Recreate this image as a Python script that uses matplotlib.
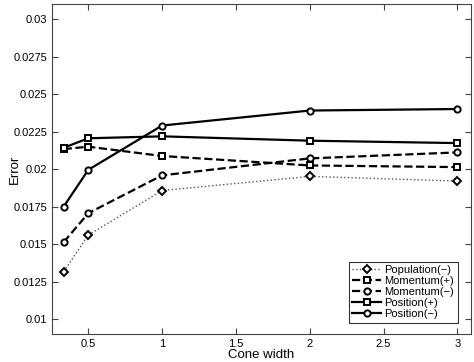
import matplotlib
matplotlib.use('Agg')
import matplotlib.pyplot as plt
import numpy as np

# anchura del cono
ancho = [1/3, 0.5, 1, 2, 3]

pob_menos = [0.01317, 0.0156, 0.01857, 0.01951, 0.0192]
mom_mas = [0.02133, 0.02149, 0.02087, 0.02024, 0.02013]
mom_menos = [0.01513, 0.01706, 0.01958, 0.02071, 0.02111]
pos_mas = [0.02142, 0.02205, 0.02218, 0.02189, 0.02173]
pos_menos = [0.0175, 0.01995, 0.0229, 0.0239, 0.0240]

etiquetas = ['Population(−)', 'Momentum(+)', 'Momentum(−)', 'Position(+)', 'Position(−)']

plt.rcParams['font.family'] = ['Liberation Sans', 'DejaVu Sans']
fig = plt.figure(figsize=(4.74, 3.62), dpi=100)
ax = fig.add_axes([0.11, 0.077, 0.883, 0.912])

mk = dict(markerfacecolor='white', markeredgecolor='black', markeredgewidth=1.4, markersize=4.5, color='black')
ax.plot(ancho, pob_menos, linestyle=':', linewidth=1.0, marker='D', label=etiquetas[0],
        **dict(mk, markersize=4, color='#555555'))
ax.plot(ancho, mom_mas, linestyle='--', linewidth=1.6, marker='s', label=etiquetas[1], **mk)
ax.plot(ancho, mom_menos, linestyle='--', linewidth=1.6, marker='o', label=etiquetas[2], **mk)
ax.plot(ancho, pos_mas, linestyle='-', linewidth=1.6, marker='s', label=etiquetas[3], **mk)
ax.plot(ancho, pos_menos, linestyle='-', linewidth=1.6, marker='o', label=etiquetas[4], **mk)

ax.set_xlim(0.255, 3.09)
ax.set_ylim(0.009, 0.031)
ax.set_xticks([0.5, 1, 1.5, 2, 2.5, 3])
ax.set_xticklabels(['0.5', '1', '1.5', '2', '2.5', '3'])
ax.set_yticks([0.01, 0.0125, 0.015, 0.0175, 0.02, 0.0225, 0.025, 0.0275, 0.03])
ax.set_yticklabels(['0.01', '0.0125', '0.015', '0.0175', '0.02', '0.0225', '0.025', '0.0275', '0.03'])
ax.tick_params(direction='in', top=True, right=True, labelsize=8, length=4, color='#444444')
for s in ax.spines.values():
    s.set_color('#444444')
ax.set_xlabel('Cone width', fontsize=9.5)
ax.set_ylabel('Error', fontsize=9.5)
ax.xaxis.set_label_coords(0.5, -0.046)
ax.yaxis.set_label_coords(-0.074, 0.5)

ax.legend(loc='lower right', fontsize=8, frameon=True, fancybox=False, edgecolor='black',
          handlelength=2.6, handletextpad=0.3, labelspacing=0.1, borderpad=0.3,
          bbox_to_anchor=(0.982, 0.018)).get_frame().set_linewidth(0.8)

fig.savefig('out.png', dpi=100)
